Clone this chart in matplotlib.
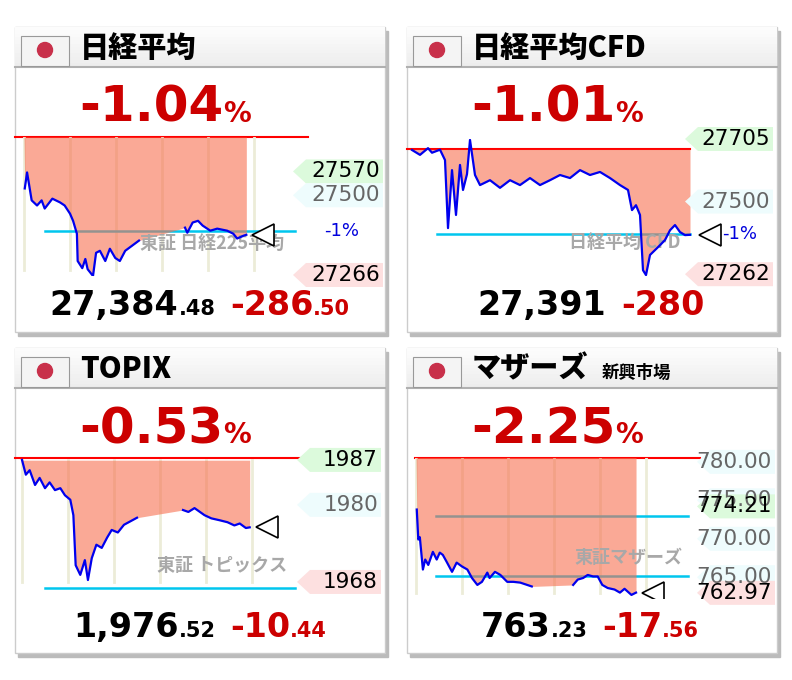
import matplotlib
matplotlib.use("Agg")
import matplotlib.pyplot as plt
import numpy as np
from matplotlib.patches import Rectangle, Polygon, Circle
from matplotlib.transforms import blended_transform_factory

JP = ["Noto Sans CJK JP", "DejaVu Sans"]
NUM = ["DejaVu Sans"]

# ---- data (minutes after 9:00, price) ----
nk_am_t = [1, 4, 10, 17, 23, 27, 37, 47, 53, 60, 64, 69, 70, 76, 80, 83, 90, 94, 99, 106, 112, 119, 125, 132, 141, 150]
nk_am_v = [27520, 27567, 27485, 27470, 27485, 27461, 27490, 27479, 27470, 27446, 27425, 27387, 27307, 27286,
           27313, 27283, 27263, 27331, 27337, 27307, 27343, 27316, 27307, 27337, 27352, 27367]
nk_pm_t = [210, 213, 220, 227, 233, 243, 252, 265, 273, 278, 286, 290]
nk_pm_v = [27405, 27390, 27420, 27425, 27411, 27396, 27402, 27396, 27387, 27373, 27381, 27384]

cfd_t = [0, 8, 16, 20, 28, 33, 36, 40, 44, 48, 51, 55, 58, 63, 68, 78, 88, 98, 108, 118, 128, 138, 148,
         158, 168, 178, 188, 198, 208, 216, 220, 224, 228, 231, 234, 238, 243, 248, 253, 258, 263, 268, 273, 278]
cfd_v = [27669, 27653, 27675, 27660, 27670, 27636, 27413, 27603, 27456, 27620, 27538, 27590, 27702, 27587,
         27554, 27570, 27545, 27570, 27554, 27577, 27554, 27570, 27587, 27577, 27603, 27587, 27597, 27577,
         27554, 27538, 27472, 27488, 27456, 27275, 27259, 27325, 27341, 27357, 27374, 27406, 27423, 27400,
         27390, 27391]

tp_am_t = [0, 5, 10, 17, 23, 30, 36, 43, 50, 56, 63, 67, 70, 76, 82, 86, 91, 97, 104, 111, 117, 125, 133, 150]
tp_am_v = [1987.0, 1984.7, 1985.4, 1983.1, 1984.2, 1982.6, 1983.5, 1982.3, 1982.6, 1981.5, 1980.8, 1978.4,
           1970.6, 1969.1, 1971.4, 1968.3, 1971.7, 1973.8, 1973.3, 1974.9, 1976.1, 1975.7, 1976.9, 1978.0]
tp_pm_t = [210, 217, 225, 238, 247, 258, 268, 277, 284, 292, 297]
tp_pm_v = [1979.2, 1978.9, 1979.5, 1978.4, 1977.9, 1977.6, 1977.3, 1976.8, 1977.1, 1976.4, 1976.5]

mt_am_t = [1, 3, 5, 9, 12, 16, 22, 27, 31, 35, 40, 47, 53, 60, 67, 73, 80, 86, 93, 96, 103, 110, 119, 127, 136, 145, 151]
mt_am_v = [773.8, 769.9, 770.2, 766.0, 767.3, 766.6, 768.3, 767.3, 768.2, 767.9, 767.0, 765.7, 766.9, 766.4,
           766.0, 764.9, 764.0, 764.4, 765.6, 764.9, 765.7, 765.3, 764.4, 764.4, 764.3, 764.0, 763.8]
mt_pm_t = [205, 211, 218, 224, 231, 237, 243, 250, 259, 266, 272, 281, 287]
mt_pm_v = [764.0, 764.7, 764.9, 765.3, 765.1, 765.1, 764.0, 763.6, 763.4, 763.0, 763.5, 762.7, 763.0]

fig = plt.figure(figsize=(7.92, 6.8), dpi=100)
ov = fig.add_axes([0, 0, 1, 1], zorder=0)
ov.set_xlim(0, 792)
ov.set_ylim(680, 0)
ov.axis("off")
renderer = fig.canvas.get_renderer()


def parts_text(xc, y, parts):
    """parts: list of (text, size, color); centred at xc, baseline y."""
    objs, x = [], 0
    for s, size, col in parts:
        t = ov.text(x, y, s, fontsize=size, color=col, fontweight="bold", family=NUM,
                    ha="left", va="baseline", zorder=20)
        w = t.get_window_extent(renderer).width
        objs.append((t, x))
        x += w
    x0 = xc - x / 2
    for t, xo in objs:
        t.set_x(x0 + xo)


def panel(px, py, title, sub=None):
    w, h = 370, 305
    ov.add_patch(Rectangle((px + 3, py + 4), w, h, color="#bbbbbb", zorder=1))
    ov.add_patch(Rectangle((px, py), w, h, facecolor="white", edgecolor="#cccccc", lw=1, zorder=2))
    for i in range(12):
        c = 0.99 - 0.06 * i / 11
        ov.add_patch(Rectangle((px, py + i * 3.3), w, 3.4, color=(c, c, c), lw=0, zorder=3))
    ov.plot([px, px + w], [py + 40, py + 40], color="#b0b0b0", lw=1.5, zorder=4)
    ov.add_patch(Rectangle((px + 6, py + 9), 48, 30, facecolor="#f4f4f4", edgecolor="#999999", lw=0.8, zorder=4))
    ov.add_patch(Circle((px + 30, py + 23), 7.5, color="#c8304a", zorder=5))
    ov.text(px + 65, py + 21, title, fontsize=21, fontweight="heavy", family=JP, va="center", zorder=5)
    if sub:
        ov.text(px + 195, py + 25, sub, fontsize=12.5, fontweight="bold", family=JP, va="center", zorder=5)


def chart(x0, x1, ytop, ybot, vtop, vbot, xl, xr):
    ax = fig.add_axes([x0 / 792, 1 - ybot / 680, (x1 - x0) / 792, (ybot - ytop) / 680], zorder=5)
    ax.set_xlim(xl, xr)
    ax.set_ylim(vbot, vtop)
    ax.axis("off")
    return ax


def tag(ax, xl, xr, v, text, bg, fc, size=15.5):
    tr = blended_transform_factory(ov.transData, ax.transData)
    y0 = ax.transData.transform((0, v))[1]
    hpx = 12
    ylo = ax.transData.inverted().transform((0, y0 - hpx))[1]
    yhi = ax.transData.inverted().transform((0, y0 + hpx))[1]
    ax.add_patch(Polygon([(xl, v), (xl + 13, yhi), (xr, yhi), (xr, ylo), (xl + 13, ylo)],
                         closed=True, facecolor=bg, edgecolor="none", transform=tr, clip_on=False, zorder=6))
    ax.text(xr - 3, v, text, transform=tr, ha="right", va="center", fontsize=size, color=fc,
            family=["DejaVu Sans"], clip_on=False, zorder=7)


def session(ax, am_t, am_v, pm_t, pm_v, prev, cyan, xc0, xc1, grid, gtop, gbot):
    for g in grid:
        ax.plot([g, g], [gbot, gtop], color="#ececd8", lw=2, zorder=1)
    for c in cyan:
        ax.plot([xc0, xc1], [c, c], color="#00c6ee", lw=1.8, zorder=1)
    t = np.array([0] + am_t + pm_t, dtype=float)
    v = np.array([prev] + am_v + pm_v, dtype=float)
    ax.fill_between(t, v, prev, color="#f87050", alpha=0.6, lw=0, zorder=2)
    ax.plot(am_t, am_v, color="#0000ee", lw=1.6, zorder=4)
    ax.plot(pm_t, pm_v, color="#0000ee", lw=1.6, zorder=4)
    ax.plot(pm_t[-1] + 22, pm_v[-1], marker="<", ms=16, mfc="white", mec="black", mew=1.2, zorder=5)


def pct_label(ax, x, v):
    ax.text(x, v, "-1%", transform=blended_transform_factory(ov.transData, ax.transData),
            ha="center", va="center", fontsize=13, color="#0000dd", family=["DejaVu Sans"], zorder=5)


K = 60 / 46  # minutes per pixel

# ---- panel 1: Nikkei ----
panel(15, 27, "日経平均")
parts_text(165, 122, [("-1.04", 36, "#cc0000"), ("%", 20, "#cc0000")])
ov.plot([15, 308], [137, 137], color="red", lw=1.5, zorder=6)
ax1 = chart(15, 385, 137, 276, 27671, 27263, (15 - 24) * K, (385 - 24) * K)
session(ax1, nk_am_t, nk_am_v, nk_pm_t, nk_pm_v, 27671, [27394], (45 - 24) * K, (295 - 24) * K,
        [0, 60, 120, 180, 240, 300], 27671, 27280)
ax1.text(212, 27358, "東証 日経225平均", transform=blended_transform_factory(ov.transData, ax1.transData),
         ha="center", va="center", fontsize=13, fontweight="bold", color="#a8a8a8", family=JP, zorder=3)
tag(ax1, 293, 383, 27570, "27570", "#dcfadc", "black")
tag(ax1, 293, 383, 27500, "27500", "#eefcfd", "#666666")
pct_label(ax1, 342, 27394)
tag(ax1, 293, 383, 27266, "27266", "#fde0e0", "black")
parts_text(200, 315, [("27,384", 24, "black"), (".48", 15, "black"), ("  ", 15, "black"),
                      ("-286", 24, "#cc0000"), (".50", 15, "#cc0000")])

# ---- panel 2: Nikkei CFD ----
panel(407, 27, "日経平均CFD")
parts_text(557, 122, [("-1.01", 36, "#cc0000"), ("%", 20, "#cc0000")])
ov.plot([407, 690], [149, 149], color="red", lw=1.5, zorder=6)
ax2 = chart(407, 776, 139, 276, 27705, 27256, -5, 364)
ax2.plot([25, 278], [27394, 27394], color="#00c6ee", lw=1.8, zorder=1)
ax2.fill_between(cfd_t, cfd_v, 27671, color="#f87050", alpha=0.6, lw=0, zorder=2)
ax2.plot(cfd_t, cfd_v, color="#0000ee", lw=1.6, zorder=4)
ax2.plot(cfd_t[-1] + 20, cfd_v[-1], marker="<", ms=16, mfc="white", mec="black", mew=1.2, zorder=5)
tr2 = blended_transform_factory(ov.transData, ax2.transData)
ax2.text(625, 27367, "日経平均 CFD", transform=tr2, ha="center", va="center", fontsize=13,
         fontweight="bold", color="#a8a8a8", family=JP, zorder=3)
tag(ax2, 685, 773, 27705, "27705", "#dcfadc", "black")
tag(ax2, 685, 773, 27500, "27500", "#eefcfd", "#666666")
pct_label(ax2, 740, 27394)
tag(ax2, 685, 773, 27262, "27262", "#fde0e0", "black")
parts_text(591, 315, [("27,391", 24, "black"), ("  ", 15, "black"), ("-280", 24, "#cc0000")])

# ---- panel 3: TOPIX ----
panel(15, 348, "TOPIX")
parts_text(165, 443, [("-0.53", 36, "#cc0000"), ("%", 20, "#cc0000")])
ov.plot([15, 308], [458, 458], color="red", lw=1.5, zorder=6)
ax3 = chart(15, 385, 458, 598, 1987.3, 1965.5, (15 - 22) * K, (385 - 22) * K)
session(ax3, tp_am_t, tp_am_v, tp_pm_t, tp_pm_v, 1986.96, [1967.1], (45 - 22) * K, (295 - 22) * K,
        [0, 60, 120, 180, 240, 300], 1986.96, 1968.0)
tr3 = blended_transform_factory(ov.transData, ax3.transData)
ax3.text(222, 1970.6, "東証 トピックス", transform=tr3, ha="center", va="center", fontsize=13,
         fontweight="bold", color="#a8a8a8", family=JP, zorder=3)
tag(ax3, 297, 381, 1987, "1987", "#dcfadc", "black")
tag(ax3, 297, 381, 1980, "1980", "#eefcfd", "#666666")
pct_label(ax3, 342, 1967.1)
tag(ax3, 297, 381, 1968, "1968", "#fde0e0", "black")
parts_text(200, 637, [("1,976", 24, "black"), (".52", 15, "black"), ("  ", 15, "black"),
                      ("-10", 24, "#cc0000"), (".44", 15, "#cc0000")])

# ---- panel 4: Mothers ----
panel(407, 348, "マザーズ", "新興市場")
parts_text(557, 443, [("-2.25", 36, "#cc0000"), ("%", 20, "#cc0000")])
ov.plot([415, 700], [458, 458], color="red", lw=1.5, zorder=6)
ax4 = chart(407, 776, 458, 598, 780.5, 762.3, (407 - 416) * K, (776 - 416) * K)
session(ax4, mt_am_t, mt_am_v, mt_pm_t, mt_pm_v, 780.79, [772.98, 765.17], (436 - 416) * K, (688 - 416) * K,
        [0, 60, 120, 180, 240, 300], 780.79, 762.9)
tr4 = blended_transform_factory(ov.transData, ax4.transData)
ax4.text(628, 767.5, "東証マザーズ", transform=tr4, ha="center", va="center", fontsize=13,
         fontweight="bold", color="#a8a8a8", family=JP, zorder=3)
tag(ax4, 697, 775, 780.0, "780.00", "#eefcfd", "#666666")
tag(ax4, 697, 775, 775.0, "775.00", "#eefcfd", "#666666")
tag(ax4, 697, 775, 774.21, "774.21", "#dcfadc", "black")
tag(ax4, 697, 775, 770.0, "770.00", "#eefcfd", "#666666")
tag(ax4, 697, 775, 765.0, "765.00", "#eefcfd", "#666666")
tag(ax4, 697, 775, 762.97, "762.97", "#fde0e0", "black")
parts_text(590, 637, [("763", 24, "black"), (".23", 15, "black"), ("  ", 15, "black"),
                      ("-17", 24, "#cc0000"), (".56", 15, "#cc0000")])

fig.savefig("out.png", dpi=100)
